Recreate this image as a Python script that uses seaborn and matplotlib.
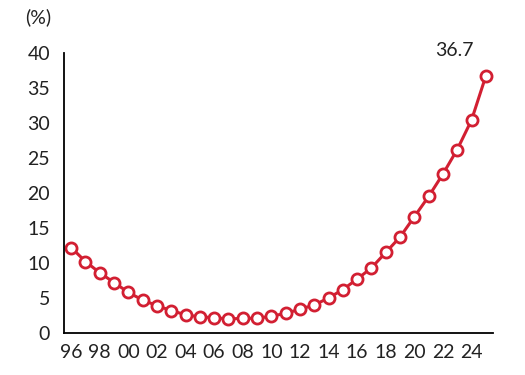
import matplotlib
matplotlib.use("Agg")
import matplotlib.pyplot as plt
import seaborn as sns
import pandas as pd
import numpy as np

# data
years = list(range(1996, 2026))
values = [12.2, 10.2, 8.6, 7.2, 5.8, 4.7, 3.9, 3.2, 2.6, 2.3,
          2.2, 2.0, 2.1, 2.1, 2.4, 2.8, 3.4, 4.0, 5.0, 6.2,
          7.7, 9.3, 11.5, 13.7, 16.6, 19.5, 22.7, 26.2, 30.4, 36.7]
tick_labels = ["96", "98", "00", "02", "04", "06", "08", "10",
               "12", "14", "16", "18", "20", "22", "24"]

df = pd.DataFrame({"year": years, "value": values})

sns.set_style("white")
plt.rcParams["font.family"] = ["Lato", "DejaVu Sans"]

red = "#d21f32"
txt = "#222222"
fs = 14
fig = plt.figure(figsize=(5.25, 3.75), dpi=100)
ax = fig.add_axes([0.122, 0.112, 0.817, 0.747])

sns.lineplot(data=df, x="year", y="value", ax=ax, color=red, linewidth=2.2,
             marker="o", markersize=8, markerfacecolor="white",
             markeredgecolor=red, markeredgewidth=2.0)

ax.set_xlim(years[0] - 0.5, years[-1] + 0.5)
ax.set_ylim(0, 40)
ax.set_yticks(range(0, 41, 5))

# tick marks at category boundaries, labels centred on the points
ax.set_xticks(np.arange(years[0] - 0.5, years[-1] + 1, 2))
ax.set_xticklabels([])
ax.set_xticks(years[::2], minor=True)
ax.set_xticklabels(tick_labels, minor=True)
ax.tick_params(axis="x", which="minor", length=0, pad=8)
ax.tick_params(axis="x", which="major", length=5, width=1.2, color="black")
ax.tick_params(axis="y", length=5, width=1.2, color="black", pad=5)
ax.tick_params(axis="both", which="both", labelsize=fs, labelcolor=txt)

for s in ["top", "right"]:
    ax.spines[s].set_visible(False)
for s in ["left", "bottom"]:
    ax.spines[s].set_color("black")
    ax.spines[s].set_linewidth(1.3)

ax.set_xlabel("")
ax.set_ylabel("")

ax.annotate(f"{values[-1]}", xy=(years[-1], values[-1]), xytext=(-23, 12),
            textcoords="offset points", ha="center", va="bottom",
            fontsize=fs, color=txt)

fig.text(0.072, 0.955, "(%)", ha="center", va="center", fontsize=fs,
         color=txt)

fig.savefig("out.png", dpi=100)
